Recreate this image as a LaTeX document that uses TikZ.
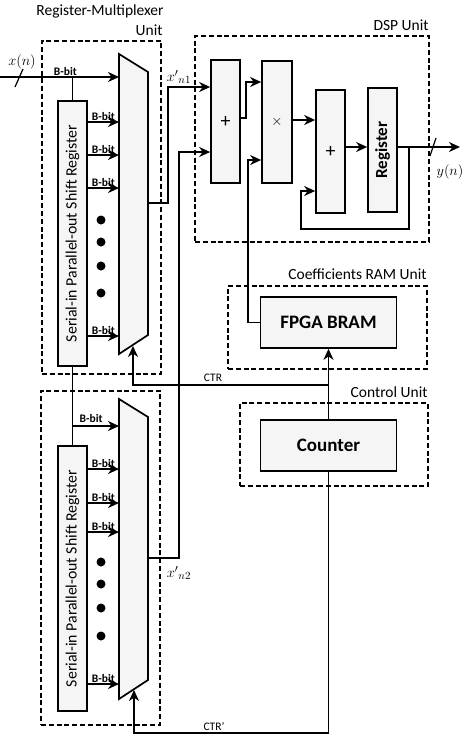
\documentclass[tikz,border=0pt]{standalone}
\usepackage{fontspec}
\setmainfont{Carlito}
\usetikzlibrary{arrows.meta,positioning,calc}

\tikzset{
  block/.style={draw, line width=1.7pt, fill=gray!8, inner sep=0pt},
  unitbox/.style={draw, line width=1.5pt, dash pattern=on 5pt off 2.8pt, inner sep=0pt},
  bus/.style={line width=1.7pt},
  arr/.style={bus, -{Stealth[length=11pt,width=10pt,inset=3.5pt]}},
  bbit/.style={font=\fontsize{11.5}{12}\selectfont\bfseries, inner sep=1pt},
  unitlabel/.style={font=\fontsize{15.5}{16}\selectfont, anchor=south east, inner sep=1pt},
  sig/.style={font=\fontsize{11.5}{12}\selectfont, inner sep=1pt},
  mathlab/.style={font=\fontsize{15.5}{16}\selectfont, inner sep=1pt},
}

\begin{document}
\begin{tikzpicture}[x=1pt,y=-1pt]
\useasboundingbox (0,0) rectangle (474,740);

% ---- register-multiplexer unit 1
\node[font=\fontsize{15.5}{16}\selectfont] (rmtitle) at (100,11) {Register-Multiplexer};
\node[unitbox, minimum width=119pt, minimum height=333pt] (rmu1) at (101.5,207.5) {};
\node[unitlabel] (rmu1lab) at ([yshift=3pt,xshift=2pt]rmu1.north east) {Unit};

\node[block, minimum width=29pt, minimum height=265pt] (sr1) at (72.5,233.5) {};
\node[rotate=90, font=\fontsize{15.8}{16}\selectfont] (sr1txt) at (sr1) {Serial-in Parallel-out Shift Register};

\draw[block] (119,54) coordinate (m1nw) -- (148,72) coordinate (m1ne)
  -- (148,335) coordinate (m1se) -- (119,354) coordinate (m1sw) -- cycle;

\coordinate (xin) at (0,77);
\node[mathlab] (xinlab) at (22,62) {$x(n)$};
\draw[arr] (xin) -- (m1nw |- xin) node[bbit, pos=0.55, above] (bb0) {B-bit};
\draw[bus] (sr1.north |- xin) -- (sr1.north);
\draw[line width=1.2pt] (15,87) -- (23,69);

\foreach \y/\n in {122/1,155/2,188/3,336/4}
  \draw[arr] (sr1.east |- 0,\y) -- (m1nw |- 0,\y) node[bbit, midway, above] (bb1\n) {B-bit};
\foreach \y in {220,242,266,293}
  \fill (101,\y) circle (4.5pt);

% ---- register-multiplexer unit 2
\node[unitbox, minimum width=119pt, minimum height=334pt] (rmu2) at (100.5,558) {};

\node[block, minimum width=29pt, minimum height=265pt] (sr2) at (72.5,578.5) {};
\node[rotate=90, font=\fontsize{15.8}{16}\selectfont] (sr2txt) at (sr2) {Serial-in Parallel-out Shift Register};

\draw[block] (119,399) coordinate (m2nw) -- (148,417) coordinate (m2ne)
  -- (148,680) coordinate (m2se) -- (119,699) coordinate (m2sw) -- cycle;

\draw[bus] (sr1.south) -- (sr2.north);
\draw[arr] (sr1.south |- 0,426) -- (m2nw |- 0,426) node[bbit, pos=0.4, above=2pt] (bb20) {B-bit};
\foreach \y/\n in {469/1,503/2,532/3,684/4}
  \draw[arr] (sr2.east |- 0,\y) -- (m2nw |- 0,\y) node[bbit, midway, above] (bb2\n) {B-bit};
\foreach \y in {562,584,608,636}
  \fill (101,\y) circle (4.5pt);

% ---- DSP unit
\node[unitbox, minimum width=234pt, minimum height=206pt] (dsp) at (312,139) {};
\node[unitlabel] (dsplab) at ([yshift=3pt]dsp.north east) {DSP Unit};

\node[block, minimum width=29pt, minimum height=123pt, font=\fontsize{20}{21}\selectfont] (add1) at (225.5,121.5) {+};
\node[block, minimum width=30pt, minimum height=122pt, font=\fontsize{14}{15}\selectfont] (mul) at (277,122) {$\times$};
\node[block, minimum width=29pt, minimum height=123pt, font=\fontsize{20}{21}\selectfont] (add2) at (330.5,151.5) {+};
\node[block, minimum width=29pt, minimum height=124pt] (reg) at (382.5,150) {};
\node[rotate=90, font=\fontsize{17}{18}\selectfont\bfseries] (regtxt) at (reg) {Register};

\draw[arr] (m1ne |- 0,203) -- (168,203) |- (add1.west |- 0,87);
\node[mathlab] (xn1) at (179,77) {$x'{}_{n1}$};
\draw[arr] (m2ne |- 0,558) -- (179,558) |- (add1.west |- 0,152);
\node[mathlab] (xn2) at (179,573) {$x'{}_{n2}$};

\draw[arr] (add1.east |- 0,118) -- (246,118) |- (mul.west |- 0,82);
\draw[arr] (mul.east |- 0,120) -- (add2.west |- 0,120);
\draw[arr] (add2.east |- 0,147) -- (reg.west |- 0,147);
\coordinate (yout) at (460,147);
\draw[arr] (reg.east |- yout) -- (yout);
\draw[line width=1.2pt] (430,156) -- (436,138);
\node[mathlab] (youtlab) at (450,172) {$y(n)$};
\draw[arr] (409,147) |- (301,229) |- (add2.west |- 0,191);

% ---- coefficients RAM unit
\node[unitbox, minimum width=199pt, minimum height=83pt] (coef) at (327.5,327.5) {};
\node[unitlabel] (coeflab) at ([yshift=4pt]coef.north east) {Coefficients RAM Unit};
\node[block, minimum width=136pt, minimum height=51pt, font=\fontsize{19}{20}\selectfont\bfseries] (bram) at (328.5,322.5) {FPGA BRAM};
\draw[arr] (bram.west) -- (248,322.5) |- (mul.west |- 0,160);

% ---- control unit
\node[unitbox, minimum width=188pt, minimum height=83pt] (ctl) at (334,444.5) {};
\node[unitlabel] (ctllab) at ([yshift=3pt]ctl.north east) {Control Unit};
\node[block, minimum width=136pt, minimum height=51pt, font=\fontsize{19}{20}\selectfont\bfseries] (cnt) at (328.5,445.5) {Counter};

\draw[arr] (cnt.north) -- (bram.south);
\draw[arr] (cnt.north |- 0,385) -| (133,346);
\node[sig] (ctr) at (213,378) {CTR};
\draw[arr] (cnt.south) -- (cnt.south |- 0,733) -| (134,690);
\node[sig] (ctrp) at (214,726) {CTR’};
\end{tikzpicture}
\end{document}
